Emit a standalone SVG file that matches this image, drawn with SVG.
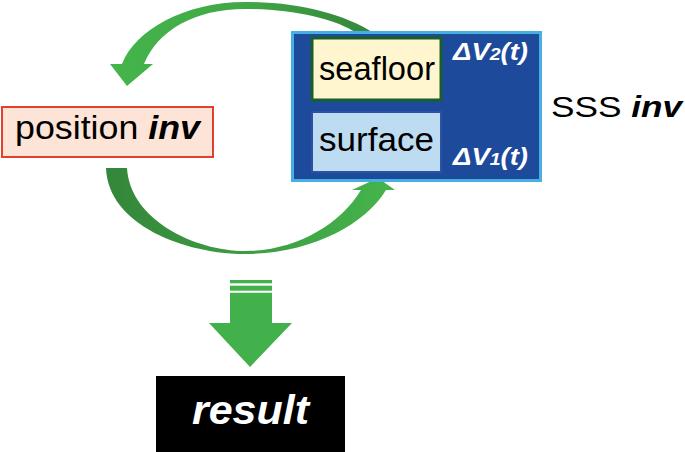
<svg xmlns="http://www.w3.org/2000/svg" width="685" height="452" viewBox="0 0 685 452">
<defs>
<linearGradient id="gTop" x1="110" y1="0" x2="372" y2="0" gradientUnits="userSpaceOnUse">
<stop offset="0" stop-color="#45b54b"/><stop offset="0.5" stop-color="#40a846"/><stop offset="1" stop-color="#34863a"/>
</linearGradient>
<linearGradient id="gBot" x1="106" y1="0" x2="395" y2="0" gradientUnits="userSpaceOnUse">
<stop offset="0" stop-color="#34863a"/><stop offset="0.5" stop-color="#3d9d43"/><stop offset="1" stop-color="#45b54b"/>
</linearGradient>
<style>
.t{font-family:"Liberation Sans",Arial,sans-serif;fill:#000}
.bi{font-weight:bold;font-style:italic}
.w{fill:#fff}
</style>
</defs>
<rect width="685" height="452" fill="#fff"/>
<g id="connectors">
<path d="M153,64 L127,86 L110,64 L122,64 C135,30 185,2 245,2 C300,2 345,15 372,32 L358,34 C335,18 290,9 245,9 C195,9 158,30 144,64 Z" fill="url(#gTop)"/>
<path d="M106,168 C108,225 185,254 245,254 C310,254 365,225 386,190 L395,190 L378,178 L352,190 L361,190 C340,225 295,251 245,251 C195,251 130,220 127,168 Z" fill="url(#gBot)"/>
<g id="down-arrow" fill="#43b14b">
<rect x="230" y="280" width="42" height="3.3"/>
<rect x="230" y="285.7" width="42" height="5"/>
<path d="M230,292.7 L272,292.7 L272,323 L292,323 L250,367 L209,323 L230,323 Z"/>
</g>
</g>
<g id="sss">
<rect x="292.5" y="32.5" width="248" height="148" fill="#1e4a9c" stroke="#47b0e3" stroke-width="3"/>
<text class="t bi w" x="453" y="60" font-size="24" textLength="75" lengthAdjust="spacingAndGlyphs">ΔV<tspan font-size="17">2</tspan>(t)</text>
<text class="t bi w" x="453" y="165" font-size="24" textLength="75" lengthAdjust="spacingAndGlyphs">ΔV<tspan font-size="17">1</tspan>(t)</text>
</g>
<g id="seafloor">
<rect x="312" y="38" width="129" height="62" fill="#fff6cf" stroke="#1a5e2a" stroke-width="3"/>
<text class="t" x="319" y="80" font-size="34" textLength="116" lengthAdjust="spacingAndGlyphs">seafloor</text>
</g>
<g id="surface">
<rect x="312" y="112" width="129" height="60" fill="#bddcf2" stroke="#2d52a3" stroke-width="2"/>
<text class="t" x="319" y="151" font-size="34" textLength="115" lengthAdjust="spacingAndGlyphs">surface</text>
</g>
<g id="sss-label">
<text class="t" x="551" y="117" font-size="30" textLength="131" lengthAdjust="spacingAndGlyphs">SSS <tspan class="bi">inv</tspan></text>
</g>
<g id="position">
<rect x="2" y="107" width="211" height="50" fill="#fde4d7" stroke="#e2402e" stroke-width="2"/>
<text class="t" x="15" y="139" font-size="33" textLength="185" lengthAdjust="spacingAndGlyphs">position <tspan class="bi">inv</tspan></text>
</g>
<g id="result">
<rect x="156" y="376" width="189" height="76" fill="#000"/>
<text class="t bi w" x="192" y="424" font-size="40" textLength="117" lengthAdjust="spacingAndGlyphs">result</text>
</g>
</svg>
